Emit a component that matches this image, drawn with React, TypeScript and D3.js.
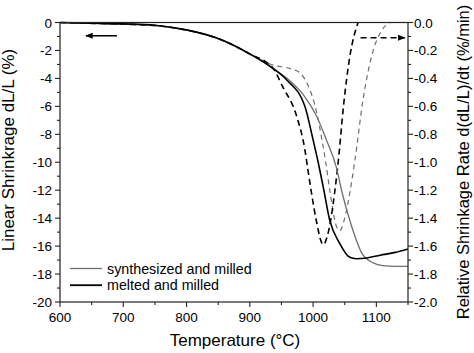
import * as d3 from "d3";
import React from "react";

// shrinkage curves (left axis, %)
const synthTemp = [600, 650, 700, 750, 800, 850, 900, 937, 964, 985, 1006, 1021, 1037, 1046, 1061, 1077, 1095, 1110, 1130, 1150];
const synthShrink = [0, -0.05, -0.1, -0.2, -0.53, -1.15, -2.25, -3.3, -4.2, -5.2, -6.75, -8.4, -10.4, -12.2, -14.6, -16.5, -17.2, -17.4, -17.45, -17.45];

const meltTemp = [600, 650, 700, 750, 800, 850, 900, 937, 958, 987, 1000, 1008, 1017, 1026, 1042, 1058, 1068, 1085, 1106, 1130, 1150];
const meltShrink = [0, -0.05, -0.1, -0.2, -0.53, -1.15, -2.25, -3.3, -4.1, -6.0, -8.4, -10.0, -12.0, -14.1, -15.8, -16.8, -16.9, -16.85, -16.65, -16.45, -16.2];

// shrinkage rate curves (right axis, %/min)
const rateSynthTemp = [600, 650, 700, 750, 800, 850, 900, 937, 964, 979, 992, 1006, 1014, 1020, 1027, 1037, 1042, 1050, 1058, 1066, 1079, 1095, 1108, 1122];
const rateSynth = [0, -0.006, -0.012, -0.022, -0.055, -0.115, -0.225, -0.305, -0.33, -0.36, -0.45, -0.65, -0.84, -1.0, -1.22, -1.46, -1.49, -1.4, -1.22, -0.99, -0.55, -0.2, -0.06, 0];

const rateMeltTemp = [600, 650, 700, 750, 800, 850, 900, 937, 952, 974, 987, 992, 1005, 1013, 1016, 1023, 1034, 1040, 1048, 1058, 1071];
const rateMelt = [0, -0.006, -0.012, -0.022, -0.055, -0.115, -0.225, -0.33, -0.46, -0.67, -0.91, -1.06, -1.415, -1.57, -1.59, -1.52, -1.22, -0.985, -0.6, -0.245, 0];

const xTicks = [600, 700, 800, 900, 1000, 1100];
const leftTicks = [0, -2, -4, -6, -8, -10, -12, -14, -16, -18, -20];
const rightTicks = [0, -0.2, -0.4, -0.6, -0.8, -1.0, -1.2, -1.4, -1.6, -1.8, -2.0];

const legendLabels = ["synthesized and milled", "melted and milled"];

const W = 474;
const H = 353;
const m = { top: 22.5, right: 66, bottom: 51, left: 60 };
const FONT = "'Liberation Sans', Arial, Helvetica, sans-serif";

export default function App() {
  const x = d3.scaleLinear().domain([600, 1150]).range([m.left, W - m.right]);
  const yL = d3.scaleLinear().domain([-20, 0]).range([H - m.bottom, m.top]);
  const yR = d3.scaleLinear().domain([-2, 0]).range([H - m.bottom, m.top]);
  const x0 = m.left;
  const x1 = W - m.right;
  const y0 = m.top;
  const y1 = H - m.bottom;

  const mk = (xs: number[], ys: number[], sc: d3.ScaleLinear<number, number>) =>
    d3
      .line<number>()
      .x((_, i) => x(xs[i]))
      .y((d) => sc(d))
      .curve(d3.curveMonotoneX)(ys) || "";

  const minorX = d3.range(650, 1151, 100);
  const minorL = d3.range(-19, 0, 2);
  const minorR = d3.range(-1.9, 0, 0.2);

  const axisCol = "#222";

  return (
    <svg
      width={W}
      height={H}
      style={{ position: "absolute", left: 0, top: 0, background: "#fff", fontFamily: FONT }}
    >
      <defs>
        <clipPath id="plot">
          <rect x={x0} y={y0 - 1} width={x1 - x0} height={y1 - y0 + 2} />
        </clipPath>
        <marker id="ah" viewBox="0 0 10 10" refX="9" refY="5" markerWidth="5" markerHeight="5" orient="auto">
          <path d="M0,1 L10,5 L0,9 z" fill="#000" />
        </marker>
      </defs>

      {/* curves */}
      <g clipPath="url(#plot)" fill="none">
        <path d={mk(rateSynthTemp, rateSynth, yR)} stroke="#6f6f6f" strokeWidth={1.2} strokeDasharray="5,4" />
        <path d={mk(rateMeltTemp, rateMelt, yR)} stroke="#000" strokeWidth={1.6} strokeDasharray="6,4" />
        <path d={mk(synthTemp, synthShrink, yL)} stroke="#6f6f6f" strokeWidth={1.3} />
        <path d={mk(meltTemp, meltShrink, yL)} stroke="#000" strokeWidth={1.6} />
      </g>

      {/* arrows */}
      <line x1={x(690)} x2={x(641)} y1={yL(-0.95)} y2={yL(-0.95)} stroke="#000" strokeWidth={1.5} markerEnd="url(#ah)" />
      <line x1={x(1075)} x2={x(1145)} y1={yR(-0.11)} y2={yR(-0.11)} stroke="#000" strokeWidth={1.5} strokeDasharray="6,4" markerEnd="url(#ah)" />

      {/* frame */}
      <rect x={x0} y={y0} width={x1 - x0} height={y1 - y0} fill="none" stroke={axisCol} strokeWidth={1.2} />

      {/* x axis */}
      {xTicks.map((t) => (
        <g key={"x" + t}>
          <line x1={x(t)} x2={x(t)} y1={y1} y2={y1 + 5} stroke={axisCol} strokeWidth={1.1} />
          <text x={x(t)} y={y1 + 20} textAnchor="middle" fontSize={13.5}>
            {t}
          </text>
        </g>
      ))}
      {minorX.map((t) => (
        <line key={"xm" + t} x1={x(t)} x2={x(t)} y1={y1} y2={y1 + 3} stroke={axisCol} strokeWidth={1.1} />
      ))}
      <text x={235} y={346} textAnchor="middle" fontSize={17}>
        Temperature (°C)
      </text>

      {/* left axis */}
      {leftTicks.map((t) => (
        <g key={"l" + t}>
          <line x1={x0 - 5} x2={x0} y1={yL(t)} y2={yL(t)} stroke={axisCol} strokeWidth={1.1} />
          <text x={x0 - 8} y={yL(t) + 5} textAnchor="end" fontSize={13.5}>
            {t}
          </text>
        </g>
      ))}
      {minorL.map((t) => (
        <line key={"lm" + t} x1={x0 - 3} x2={x0} y1={yL(t)} y2={yL(t)} stroke={axisCol} strokeWidth={1.1} />
      ))}
      <text transform="translate(13.5,150) rotate(-90)" textAnchor="middle" fontSize={17}>
        Linear Shrinkrage dL/L (%)
      </text>

      {/* right axis */}
      {rightTicks.map((t) => (
        <g key={"r" + t}>
          <line x1={x1} x2={x1 + 5} y1={yR(t)} y2={yR(t)} stroke={axisCol} strokeWidth={1.1} />
          <text x={x1 + 6} y={yR(t) + 5} textAnchor="start" fontSize={13.5}>
            {t.toFixed(1)}
          </text>
        </g>
      ))}
      {minorR.map((t) => (
        <line key={"rm" + t} x1={x1} x2={x1 + 3} y1={yR(t)} y2={yR(t)} stroke={axisCol} strokeWidth={1.1} />
      ))}
      <text transform="translate(469,162) rotate(-90)" textAnchor="middle" fontSize={16.5}>
        Relative Shrinkage Rate d(dL/L)/dt (%/min)
      </text>

      {/* legend */}
      {legendLabels.map((lab, i) => (
        <g key={lab}>
          <line
            x1={70}
            x2={102}
            y1={268.5 + i * 16.7}
            y2={268.5 + i * 16.7}
            stroke={i === 0 ? "#6f6f6f" : "#000"}
            strokeWidth={i === 0 ? 1.3 : 1.8}
          />
          <text x={107} y={273.5 + i * 16.7} fontSize={14.3}>
            {lab}
          </text>
        </g>
      ))}
    </svg>
  );
}
